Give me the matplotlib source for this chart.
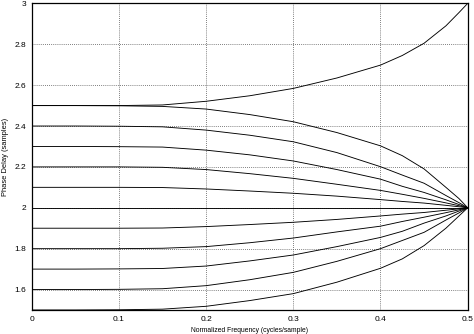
"""
Phase delay vs normalized frequency for a family of fractional-delay curves.
"""

import matplotlib
matplotlib.use("Agg")
import matplotlib.pyplot as plt

plt.rcParams["font.family"] = ["Liberation Sans", "DejaVu Sans"]

# frequency sample points (cycles/sample)
freq = [0, 0.05, 0.1, 0.15, 0.2, 0.25, 0.3, 0.35, 0.4, 0.425, 0.45, 0.475, 0.49, 0.5]

# phase delay (samples)
d25_up = [2.5, 2.5, 2.5, 2.503, 2.521, 2.548, 2.584, 2.635, 2.698, 2.745, 2.805, 2.89, 2.955, 3.0]
d25 = [2.5, 2.5, 2.499, 2.496, 2.483, 2.456, 2.421, 2.368, 2.303, 2.255, 2.19, 2.10, 2.045, 2.0]
d24 = [2.4, 2.4, 2.399, 2.396, 2.380, 2.355, 2.323, 2.27, 2.201, 2.16, 2.12, 2.06, 2.025, 2.0]
d23 = [2.3, 2.3, 2.299, 2.297, 2.282, 2.259, 2.229, 2.187, 2.14, 2.105, 2.075, 2.039, 2.016, 2.0]
d22 = [2.2, 2.2, 2.2, 2.198, 2.187, 2.167, 2.144, 2.115, 2.085, 2.066, 2.046, 2.024, 2.01, 2.0]
d21 = [2.1, 2.1, 2.1, 2.099, 2.092, 2.082, 2.071, 2.057, 2.04, 2.031, 2.023, 2.012, 2.005, 2.0]
d20 = [2.0, 2.0, 2.0, 2.0, 2.0, 2.0, 2.0, 2.0, 2.0, 2.0, 2.0, 2.0, 2.0, 2.0]
d19 = [1.9, 1.9, 1.9, 1.901, 1.908, 1.918, 1.929, 1.943, 1.96, 1.969, 1.977, 1.988, 1.995, 2.0]
d18 = [1.8, 1.8, 1.8, 1.802, 1.81, 1.829, 1.852, 1.882, 1.91, 1.933, 1.954, 1.976, 1.99, 2.0]
d17 = [1.7, 1.7, 1.701, 1.703, 1.715, 1.74, 1.769, 1.81, 1.855, 1.885, 1.925, 1.96, 1.984, 2.0]
d16 = [1.6, 1.6, 1.601, 1.604, 1.619, 1.648, 1.684, 1.738, 1.80, 1.84, 1.88, 1.94, 1.975, 2.0]
d15 = [1.5, 1.5, 1.501, 1.504, 1.518, 1.546, 1.580, 1.636, 1.704, 1.75, 1.815, 1.90, 1.96, 2.0]

curves = [d25_up, d25, d24, d23, d22, d21, d20, d19, d18, d17, d16, d15]

xticks = [0, 0.1, 0.2, 0.3, 0.4, 0.5]
xticklabels = ["0", "0.1", "0.2", "0.3", "0.4", "0.5"]
yticks = [1.6, 1.8, 2.0, 2.2, 2.4, 2.6, 2.8, 3.0]
yticklabels = ["1.6", "1.8", "2", "2.2", "2.4", "2.6", "2.8", "3"]

fig = plt.figure(figsize=(4.74, 3.34), dpi=100)
ax = fig.add_axes([0.0669, 0.0719, 0.9198, 0.918])

for y in curves:
    ax.plot(freq, y, color="black", linewidth=0.65)

ax.set_xlim(0, 0.5)
ax.set_ylim(1.5, 3.0)
ax.set_xticks(xticks)
ax.set_xticklabels(xticklabels)
ax.set_yticks(yticks)
ax.set_yticklabels(yticklabels)
ax.tick_params(labelsize=6, length=0, pad=4)

# gnuplot-style dotted grid
ax.grid(True, color="#555555", linestyle=(0, (1, 1.5)), linewidth=0.6)
ax.set_axisbelow(True)
for s in ax.spines.values():
    s.set_linewidth(0.9)

ax.set_xlabel("Normalized Frequency (cycles/sample)", fontsize=4.9, labelpad=3)
ax.set_ylabel("Phase Delay (samples)", fontsize=5.4, labelpad=4)

fig.savefig("out.png", dpi=100)
